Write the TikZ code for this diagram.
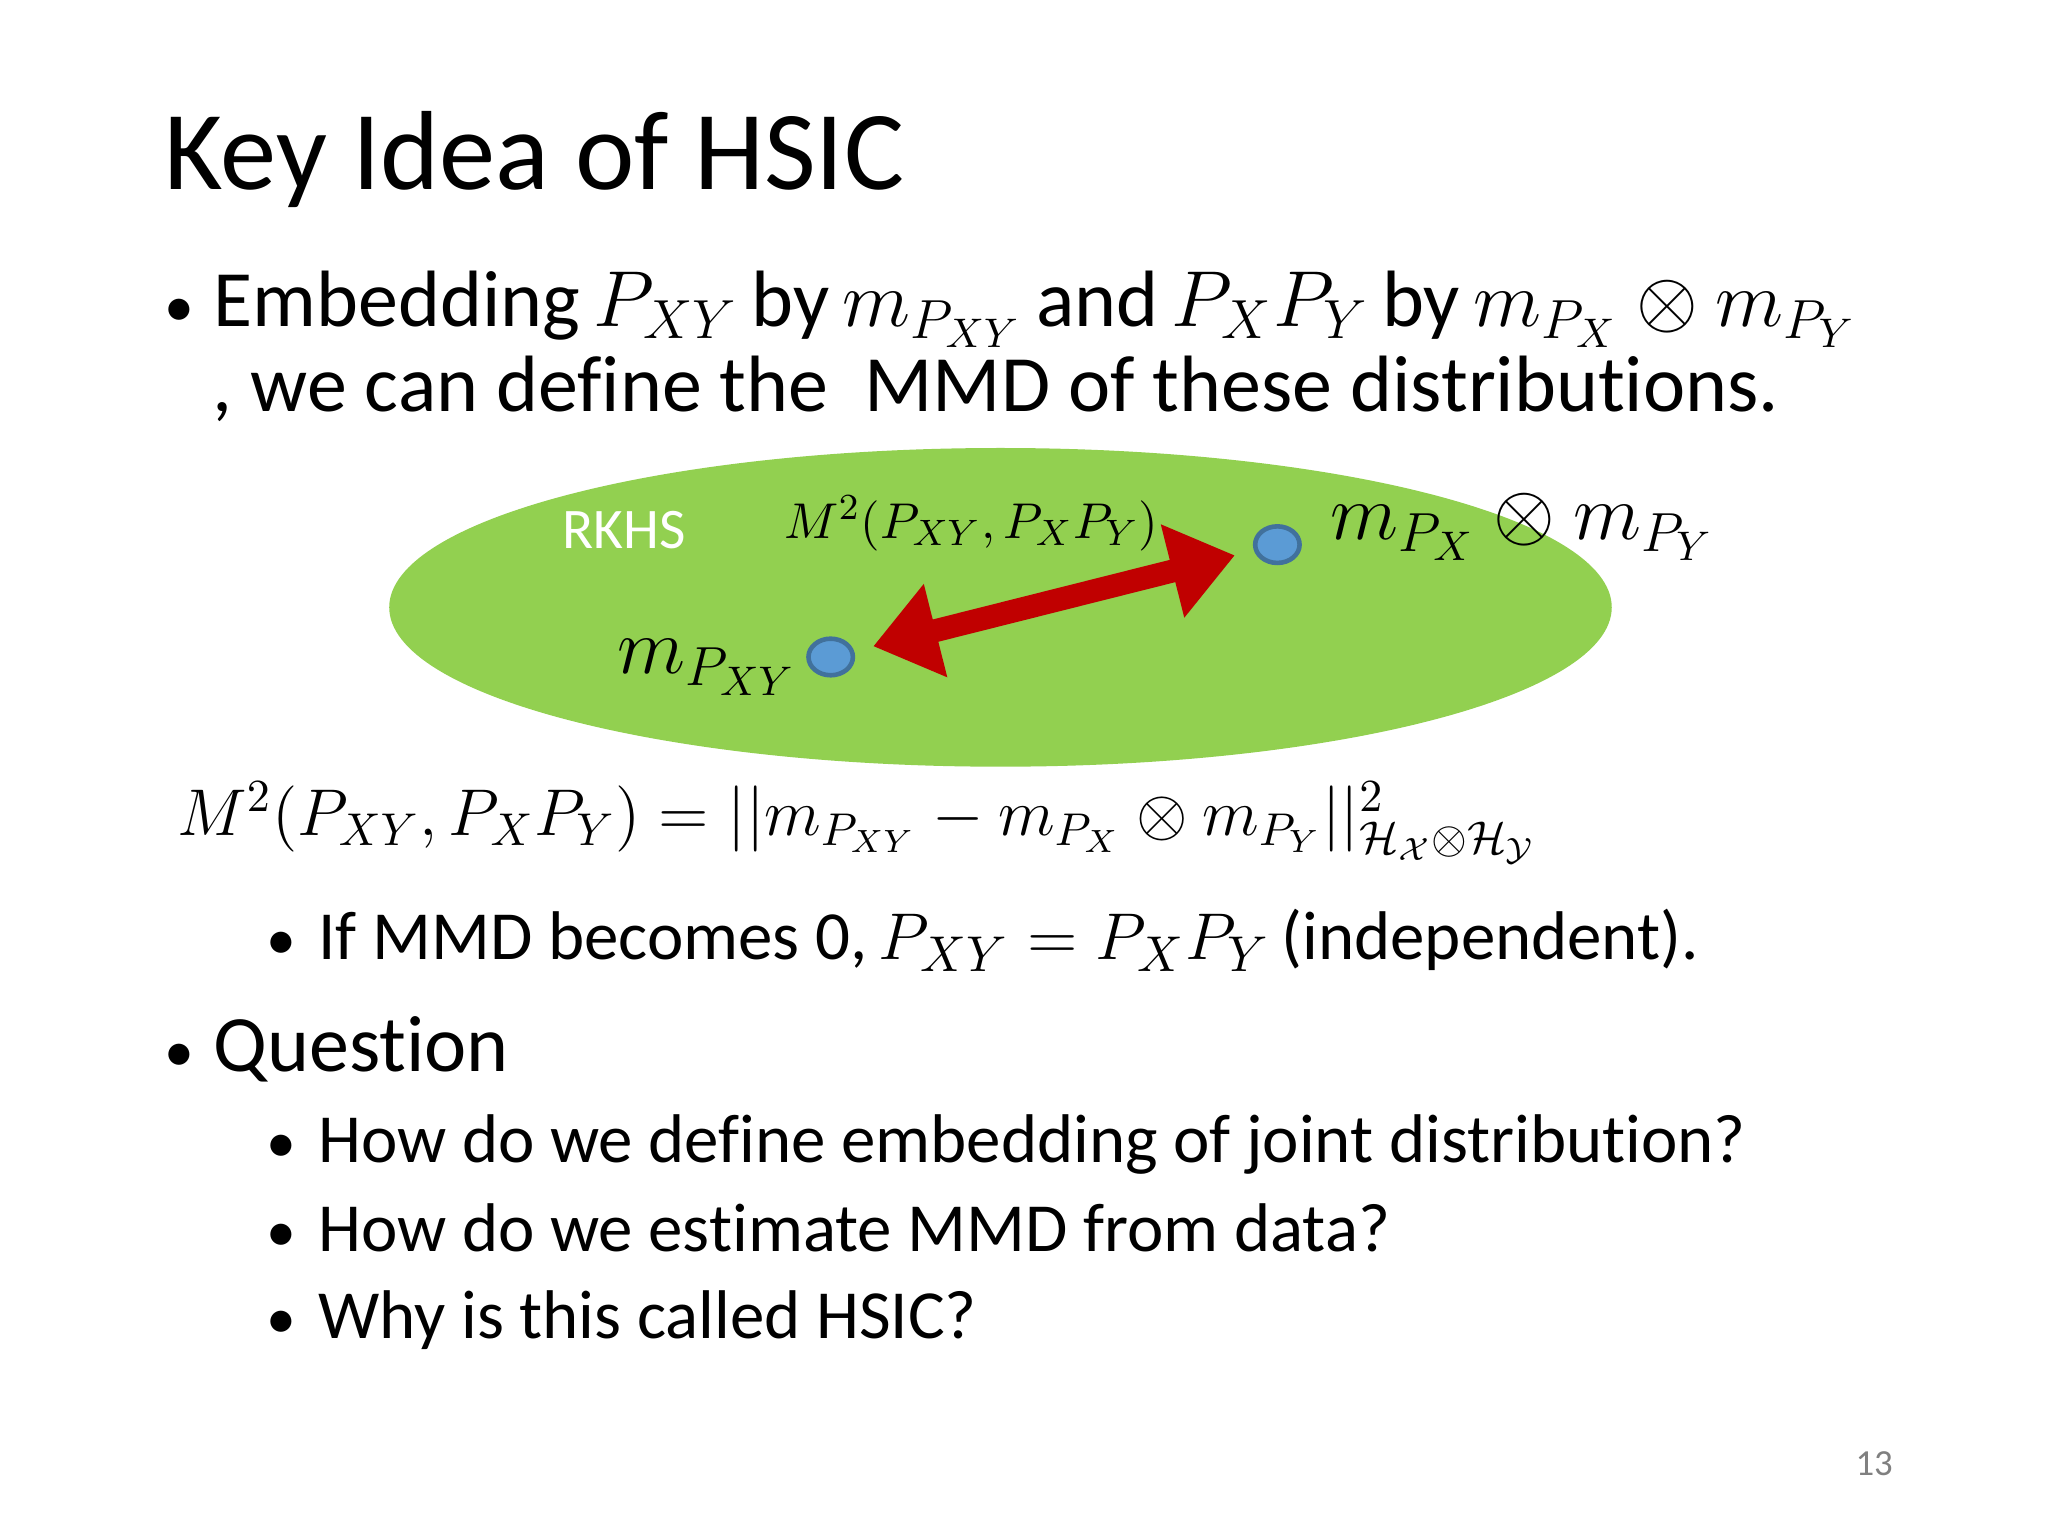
\documentclass[tikz,border=0pt]{standalone}
\usepackage{fontspec}
\setmainfont{Carlito}[Ligatures=NoCommon]
\usepackage{amsmath}
\usetikzlibrary{arrows.meta,shapes.geometric}
\definecolor{grn}{HTML}{92D050}
\definecolor{dotb}{HTML}{5B9BD5}
\definecolor{dotr}{HTML}{41719C}
\definecolor{arr}{HTML}{C00000}
\tikzset{
 txt/.style={anchor=base west,inner sep=0pt},
 body/.style={txt,font=\fontsize{17.4}{21}\selectfont},
 sub/.style={txt,font=\fontsize{15}{18}\selectfont},
 bul/.style={txt,font=\fontsize{13}{15}\selectfont},
 dot/.style={ellipse,draw=dotr,fill=dotb,line width=1pt,minimum width=0.34cm,minimum height=0.28cm,inner sep=0pt}
}
\begin{document}
\begin{tikzpicture}[x=0.01cm,y=-0.01cm]
\useasboundingbox[fill=white] (0,0) rectangle (1568,1176);
\node[txt,font=\fontsize{24.5}{28}\selectfont] (title) at (125,145) {Key Idea of HSIC};
\node[bul] (u1) at (125,250) {\textbullet};
\node[body] (b1) at (163,250) {Embedding\,$P_{XY}$\,by\,$m_{P_{XY}}$\,and\,$P_XP_Y$\,by\,$m_{P_X}\otimes m_{P_Y}$};
\node[body] (b1b) at (162,315) {, we can define the \ MMD of these distributions.};
\fill[grn] (766,465) ellipse [x radius=468, y radius=122];
\node[txt,white,font=\fontsize{12.5}{15}\selectfont] (rk) at (430,420) {RKHS};
\node[txt,font=\fontsize{11}{14}\selectfont] (ml) at (600,412) {$M^2(P_{XY},P_XP_Y)$};
\node[dot] (d1) at (978,417) {};
\node[dot] (d2) at (636,503) {};
\node[txt,font=\fontsize{17.5}{21}\selectfont] (mx) at (1018,413) {$m_{P_X}\otimes m_{P_Y}$};
\node[txt,font=\fontsize{17.5}{21}\selectfont] (mxy) at (472,516) {$m_{P_{XY}}$};
\draw[arr,line width=5pt,shorten <=0.15cm,shorten >=0.15cm,{Triangle[length=14pt,width=20pt]}-{Triangle[length=14pt,width=20pt]}] (d2) -- (d1);
\node[txt,font=\fontsize{14.5}{18}\selectfont] (eq) at (135,640) {$M^2(P_{XY},P_XP_Y)=||m_{P_{XY}}-m_{P_X}\otimes m_{P_Y}||^2_{\mathcal{H}_\mathcal{X}\otimes\mathcal{H}_\mathcal{Y}}$};
\node[bul] (u2) at (203,735) {\textbullet};
\node[sub] (s1) at (243,735) {If MMD becomes 0,\,$P_{XY}=P_XP_Y$\,(independent).};
\node[bul] (u3) at (125,820) {\textbullet};
\node[body] (q) at (163,820) {Question};
\node[bul] (u4) at (203,890) {\textbullet};
\node[sub] (s2) at (243,890) {How do we define embedding of joint distribution?};
\node[bul] (u5) at (203,958) {\textbullet};
\node[sub] (s3) at (243,958) {How do we estimate MMD from data?};
\node[bul] (u6) at (203,1025) {\textbullet};
\node[sub] (s4) at (243,1025) {Why is this called HSIC?};
\node[txt,gray,font=\fontsize{8}{10}\selectfont] (pg) at (1420,1130) {13};
\end{tikzpicture}
\end{document}
